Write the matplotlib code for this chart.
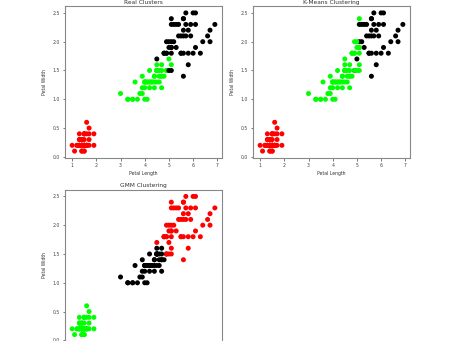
import matplotlib
matplotlib.use("Agg")
import matplotlib.pyplot as plt
import numpy as np
from matplotlib.colors import ListedColormap

# Iris petal measurements
petal_length = [
    1.4,1.4,1.3,1.5,1.4,1.7,1.4,1.5,1.4,1.5,1.5,1.6,1.4,1.1,1.2,1.5,1.3,1.4,1.7,1.5,
    1.7,1.5,1.0,1.7,1.9,1.6,1.6,1.5,1.4,1.6,1.6,1.5,1.5,1.4,1.5,1.2,1.3,1.4,1.3,1.5,
    1.3,1.3,1.3,1.6,1.9,1.4,1.6,1.4,1.5,1.4,
    4.7,4.5,4.9,4.0,4.6,4.5,4.7,3.3,4.6,3.9,3.5,4.2,4.0,4.7,3.6,4.4,4.5,4.1,4.5,3.9,
    4.8,4.0,4.9,4.7,4.3,4.4,4.8,5.0,4.5,3.5,3.8,3.7,3.9,5.1,4.5,4.5,4.7,4.4,4.1,4.0,
    4.4,4.6,4.0,3.3,4.2,4.2,4.2,4.3,3.0,4.1,
    6.0,5.1,5.9,5.6,5.8,6.6,4.5,6.3,5.8,6.1,5.1,5.3,5.5,5.0,5.1,5.3,5.5,6.7,6.9,5.0,
    5.7,4.9,6.7,4.9,5.7,6.0,4.8,4.9,5.6,5.8,6.1,6.4,5.6,5.1,5.6,6.1,5.6,5.5,4.8,5.4,
    5.6,5.1,5.1,5.9,5.7,5.2,5.0,5.2,5.4,5.1]
petal_width = [
    0.2,0.2,0.2,0.2,0.2,0.4,0.3,0.2,0.2,0.1,0.2,0.2,0.1,0.1,0.2,0.4,0.4,0.3,0.3,0.3,
    0.2,0.4,0.2,0.5,0.2,0.2,0.4,0.2,0.2,0.2,0.2,0.4,0.1,0.2,0.2,0.2,0.2,0.1,0.2,0.2,
    0.3,0.3,0.2,0.6,0.4,0.3,0.2,0.2,0.2,0.2,
    1.4,1.5,1.5,1.3,1.5,1.3,1.6,1.0,1.3,1.4,1.0,1.5,1.0,1.4,1.3,1.4,1.5,1.0,1.5,1.1,
    1.8,1.3,1.5,1.2,1.3,1.4,1.4,1.7,1.5,1.0,1.1,1.0,1.2,1.6,1.5,1.6,1.5,1.3,1.3,1.3,
    1.2,1.4,1.2,1.0,1.3,1.2,1.3,1.3,1.1,1.3,
    2.5,1.9,2.1,1.8,2.2,2.1,1.7,1.8,1.8,2.5,2.0,1.9,2.1,2.0,2.4,2.3,1.8,2.2,2.3,1.5,
    2.3,2.0,2.0,1.8,2.1,1.8,1.8,1.8,2.1,1.6,1.9,2.0,2.2,1.5,1.4,2.3,2.4,1.8,1.8,2.1,
    2.4,2.3,1.9,2.3,2.5,2.3,1.9,2.0,2.3,1.8]

# Cluster labels
real_labels = [0]*50 + [1]*50 + [2]*50
kmeans_labels = ([0]*50 +
    [1,1,2,1,1,1,1,1,1,1,1,1,1,1,1,1,1,1,1,1,1,1,1,1,1,1,1,2,1,1,
     1,1,1,1,1,1,1,1,1,1,1,1,1,1,1,1,1,1,1,1] +
    [2,1,2,2,2,2,1,2,2,2,2,2,2,1,1,2,2,2,2,1,2,1,2,1,2,2,1,1,2,2,
     2,2,2,1,2,2,2,2,1,2,2,2,1,2,2,2,1,2,2,1])
gmm_labels = ([0]*50 +
    [1,1,1,1,1,1,1,1,1,1,1,1,1,1,1,1,1,1,1,1,2,1,2,1,1,1,1,2,1,1,
     1,1,1,2,1,1,1,1,1,1,1,1,1,1,1,1,1,1,1,1] +
    [2]*50)

titles = ["Real Clusters", "K-Means Clustering", "GMM Clustering"]
x_label = "Petal Length"
y_label = "Petal Width"

cmap_real = ListedColormap(["red", "lime", "black"])
cmap_gmm = ListedColormap(["lime", "black", "red"])

W, H = 474, 341
fig = plt.figure(figsize=(W/100, H/100), dpi=100)

def px_axes(left, top, w, h):
    return fig.add_axes([left/W, (H-top-h)/H, w/W, h/H])

axes = [px_axes(65, 6, 157, 152), px_axes(253, 6, 157, 152), px_axes(65, 189.5, 157, 152)]
label_sets = [real_labels, kmeans_labels, gmm_labels]
cmaps = [cmap_real, cmap_real, cmap_gmm]

for ax, labs, cm, t in zip(axes, label_sets, cmaps, titles):
    ax.scatter(petal_length, petal_width, c=labs, cmap=cm, vmin=0, vmax=2, s=13, linewidths=0)
    ax.set_title(t, fontsize=4.2, pad=1.6, color="#333333")
    ax.set_xlabel(x_label, fontsize=3.3, labelpad=2.0, color="#333333")
    ax.set_ylabel(y_label, fontsize=3.3, labelpad=3.5, color="#333333")
    ax.tick_params(labelsize=3.3, length=1.8, width=0.5, pad=2.0, colors="#444444")
    ax.set_xticks([1, 2, 3, 4, 5, 6, 7])
    ax.set_yticks([0.0, 0.5, 1.0, 1.5, 2.0, 2.5])
    for sp in ax.spines.values():
        sp.set_linewidth(0.8)
        sp.set_color("#888888")

fig.savefig("out.png", dpi=100)
